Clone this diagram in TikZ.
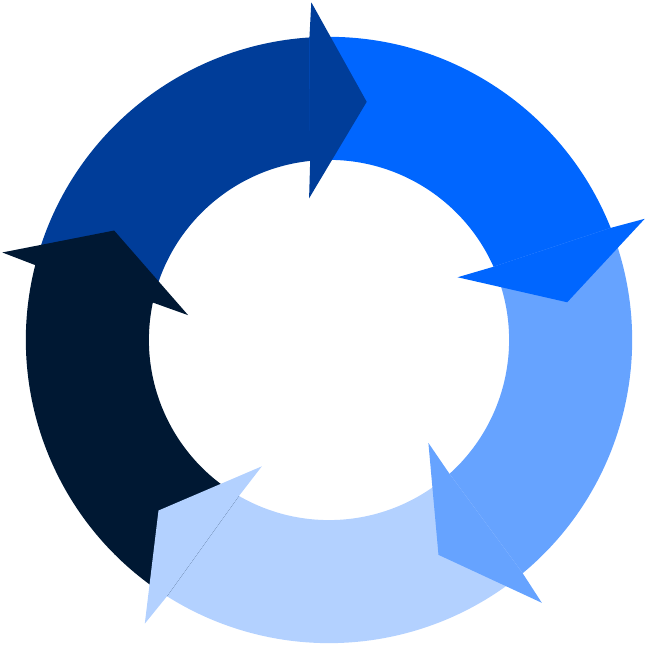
\documentclass[tikz,border=0pt]{standalone}
\usepackage{tikz}

\definecolor{CycleOne}{HTML}{003D99}
\definecolor{CycleTwo}{HTML}{0066FF}
\definecolor{CycleThree}{HTML}{66A3FF}
\definecolor{CycleFour}{HTML}{B3D1FF}
\definecolor{CycleFive}{HTML}{001833}

\begin{document}
\begin{tikzpicture}[scale=0.01]
    \coordinate (Origin)   at (0,0);
    \coordinate (BoxMin)   at (-329,-305);
    \coordinate (BoxMax)   at (316,340);
    \useasboundingbox (BoxMin) rectangle (BoxMax);% Keeps the margins
    \def\Rout{303}% outer radius of the ring
    \def\Rin{180}%  inner radius of the ring

    % Ring pieces first: each one runs clockwise from the head
    % before it down to the base of its own head.
    \foreach \t/\c in {81/CycleOne,9/CycleTwo,-63/CycleThree,-135/CycleFour,153/CycleFive}{%
      \fill[\c] (\t+84.7:\Rout) arc[start angle=\t+84.7, end angle=\t+12.2, radius=\Rout]
          -- (\t+14.5:\Rin) arc[start angle=\t+14.5, end angle=\t+87, radius=\Rin] -- cycle;
    }
    % Heads on top, so that each one hides the tail of the next piece
    \foreach \t/\c in {81/CycleOne,9/CycleTwo,-63/CycleThree,-135/CycleFour,153/CycleFive}{%
      \fill[\c] (\t+12.7:\Rout) -- (\t+12:338) -- (\t:241)% outer barb and tip
          -- (\t+17:143) -- (\t+15:\Rin) -- cycle;%         inner barb
    }
\end{tikzpicture}
\end{document}
